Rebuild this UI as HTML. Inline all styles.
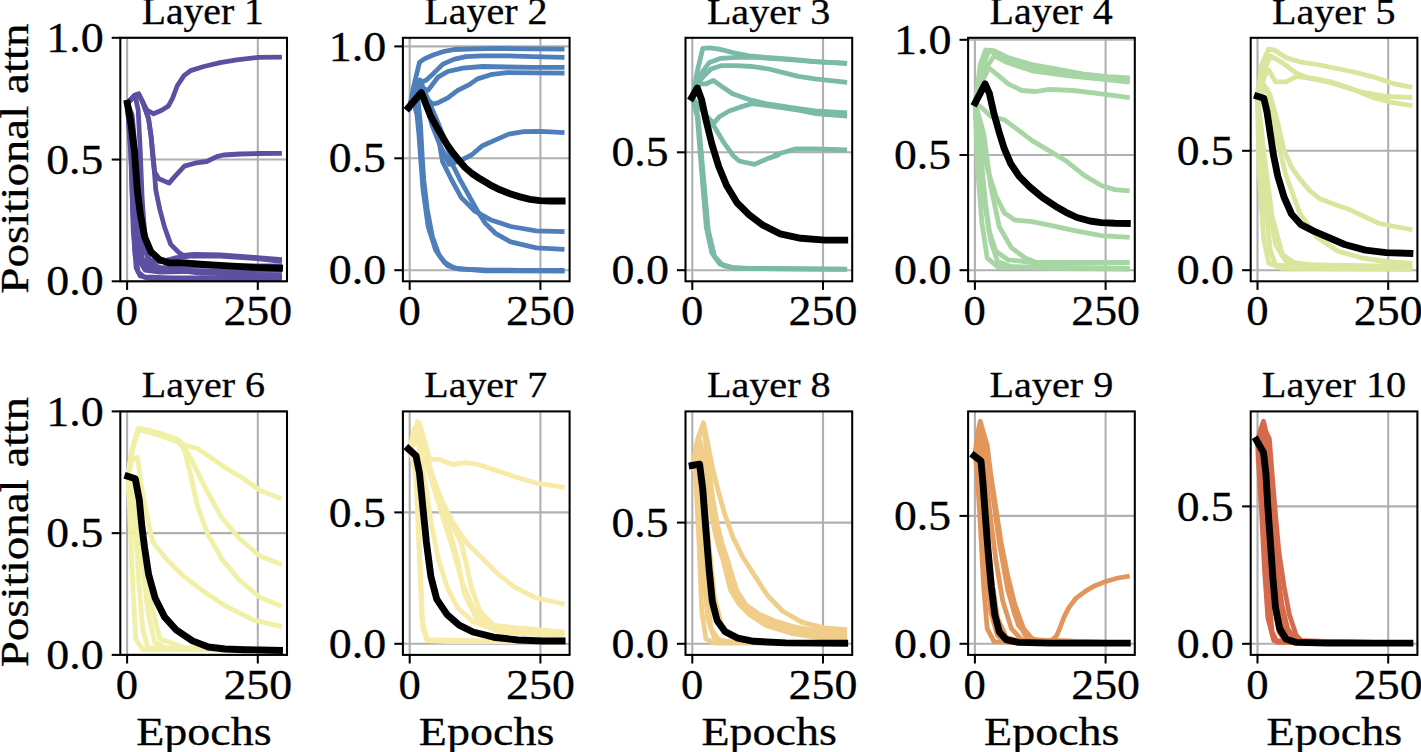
<!DOCTYPE html><html><head><meta charset="utf-8"><style>html,body{margin:0;padding:0;background:#fff;overflow:hidden}svg{display:block}text{font-family:"Liberation Serif",serif;fill:#000;stroke:#000;stroke-width:0.3px}</style></head><body>
<svg width="1421" height="752" viewBox="0 0 1421 752">
<rect width="1421" height="752" fill="#fff"/>
<g stroke="#b0b0b0" stroke-width="2.1"><line x1="127.10" y1="37.80" x2="127.10" y2="281.30"/><line x1="257.80" y1="37.80" x2="257.80" y2="281.30"/><line x1="120.30" y1="281.30" x2="287.00" y2="281.30"/><line x1="120.30" y1="159.55" x2="287.00" y2="159.55"/><line x1="120.30" y1="37.80" x2="287.00" y2="37.80"/></g>
<clipPath id="c1"><rect x="120.30" y="37.80" width="166.70" height="243.50"/></clipPath>
<g clip-path="url(#c1)" fill="none" stroke-linejoin="round" stroke-linecap="square">
<path d="M127.3,103.3 L134.5,95.4 L138.6,94.0 L142.7,102.0 L146.9,110.2 L153.5,113.8 L161.7,110.2 L168.3,106.1 L172.4,98.7 L177.4,85.5 L184.0,75.6 L190.6,70.6 L203.8,66.5 L220.2,62.7 L236.7,59.9 L258.2,57.4 L279.5,57.1" stroke="#5e4fa2" stroke-width="4.8"/>
<path d="M127.3,103.3 L134.5,95.4 L138.6,94.0 L142.7,102.0 L148.5,118.5 L151.0,135.0 L152.6,155.0 L154.6,172.0 L158.9,178.8 L169.1,183.1 L174.2,177.1 L184.4,166.1 L194.6,163.2 L206.6,161.5 L216.8,156.7 L223.6,155.0 L240.0,154.0 L258.0,153.5 L279.5,153.4" stroke="#5e4fa2" stroke-width="4.8"/>
<path d="M127.3,103.3 L134.5,95.4 L138.6,94.0 L142.7,102.0 L148.5,118.5 L151.5,140.0 L153.5,160.0 L155.8,190.0 L159.6,208.5 L164.5,227.0 L170.7,244.4 L178.1,251.8 L183.0,255.5 L194.2,254.3 L220.0,254.9 L254.2,257.5 L279.5,259.5" stroke="#5e4fa2" stroke-width="4.8"/>
<path d="M127.3,103.3 L132.2,115.0 L135.2,150.0 L138.2,200.0 L141.2,235.0 L145.2,252.0 L150.0,260.0 L160.0,262.0 L175.0,258.0 L190.0,256.0 L220.0,256.0 L250.0,258.0 L279.5,261.0" stroke="#5e4fa2" stroke-width="4.8"/>
<path d="M127.3,103.3 L131.2,140.0 L133.2,190.0 L136.2,240.0 L140.2,262.0 L145.0,270.0 L160.0,272.0 L200.0,271.0 L250.0,270.5 L279.5,270.3" stroke="#5e4fa2" stroke-width="4.8"/>
<path d="M127.3,103.3 L130.7,150.0 L132.7,210.0 L135.2,255.0 L138.2,272.0 L144.2,277.0 L170.0,278.0 L279.5,278.0" stroke="#5e4fa2" stroke-width="4.8"/>
<path d="M127.3,103.3 L131.2,160.0 L133.2,230.0 L136.2,268.0 L140.2,276.0 L150.0,278.5 L279.5,278.5" stroke="#5e4fa2" stroke-width="4.8"/>
<path d="M127.3,103.3 L132.2,130.0 L135.2,190.0 L138.2,235.0 L142.2,258.0 L148.0,267.0 L160.0,268.0 L200.0,266.0 L279.5,266.0" stroke="#5e4fa2" stroke-width="4.8"/>
<path d="M127.3,103.3 L135.2,96.0 L138.2,110.0 L140.2,150.0 L142.2,200.0 L145.2,240.0 L148.0,262.0 L160.0,268.0 L200.0,273.0 L279.5,275.0" stroke="#5e4fa2" stroke-width="4.8"/>
<path d="M127.3,103.3 L129.2,113.5 L131.2,125.0 L134.5,151.4 L137.3,190.0 L140.4,214.7 L144.7,237.0 L150.9,251.8 L159.6,259.8 L169.4,262.9 L184.3,262.9 L200.3,264.2 L220.0,265.4 L254.2,267.4 L279.5,268.2" stroke="#000" stroke-width="6.9"/>
</g>
<rect x="120.30" y="37.80" width="166.70" height="243.50" fill="none" stroke="#000" stroke-width="2.05"/>
<g stroke="#000" stroke-width="2.05"><line x1="127.10" y1="281.30" x2="127.10" y2="289.90"/><line x1="257.80" y1="281.30" x2="257.80" y2="289.90"/><line x1="111.70" y1="281.30" x2="120.30" y2="281.30"/><line x1="111.70" y1="159.55" x2="120.30" y2="159.55"/><line x1="111.70" y1="37.80" x2="120.30" y2="37.80"/></g>
<text x="46.25" y="295.40" font-size="41.82" textLength="57.40" lengthAdjust="spacingAndGlyphs">0.0</text>
<text x="46.26" y="173.65" font-size="41.82" textLength="57.01" lengthAdjust="spacingAndGlyphs">0.5</text>
<text x="46.15" y="51.90" font-size="41.82" textLength="57.50" lengthAdjust="spacingAndGlyphs">1.0</text>
<text x="115.81" y="325.30" font-size="41.82" textLength="22.34" lengthAdjust="spacingAndGlyphs">0</text>
<text x="223.42" y="325.30" font-size="41.82" textLength="68.81" lengthAdjust="spacingAndGlyphs">250</text>
<text x="141.72" y="23.60" font-size="37.38" textLength="122.22" lengthAdjust="spacingAndGlyphs">Layer 1</text>
<g transform="translate(27.9,158.15) rotate(-90)"><text x="-135.56" y="0" font-size="40.53" textLength="270.18" lengthAdjust="spacingAndGlyphs">Positional attn</text></g>
<g stroke="#b0b0b0" stroke-width="2.1"><line x1="409.70" y1="37.80" x2="409.70" y2="281.30"/><line x1="540.40" y1="37.80" x2="540.40" y2="281.30"/><line x1="402.90" y1="270.20" x2="569.60" y2="270.20"/><line x1="402.90" y1="158.30" x2="569.60" y2="158.30"/><line x1="402.90" y1="46.40" x2="569.60" y2="46.40"/></g>
<clipPath id="c2"><rect x="402.90" y="37.80" width="166.70" height="243.50"/></clipPath>
<g clip-path="url(#c2)" fill="none" stroke-linejoin="round" stroke-linecap="square">
<path d="M409.7,107.4 L414.0,85.0 L419.5,62.4 L423.9,59.1 L433.0,55.0 L442.9,51.7 L454.4,49.5 L474.2,48.9 L498.9,48.4 L531.9,48.9 L562.1,49.2" stroke="#4f7fba" stroke-width="4.8"/>
<path d="M409.7,107.4 L416.0,88.0 L422.0,82.0 L426.4,80.0 L433.0,73.9 L442.9,64.1 L454.4,59.1 L466.0,56.6 L482.5,55.8 L507.2,55.8 L531.9,56.6 L562.1,57.4" stroke="#4f7fba" stroke-width="4.8"/>
<path d="M409.7,107.4 L416.0,92.0 L422.0,88.0 L428.0,90.4 L437.9,77.2 L447.8,71.5 L462.7,68.2 L482.5,66.5 L507.2,67.0 L531.9,67.3 L562.1,67.3" stroke="#4f7fba" stroke-width="4.8"/>
<path d="M409.7,107.4 L415.0,95.0 L421.0,88.0 L428.0,100.0 L433.0,104.0 L437.9,102.8 L447.8,97.8 L457.7,90.4 L469.3,84.6 L477.5,78.9 L492.3,74.3 L507.2,72.6 L562.1,73.1" stroke="#4f7fba" stroke-width="4.8"/>
<path d="M409.7,107.4 L415.0,85.0 L420.0,82.0 L425.0,100.0 L432.0,125.0 L440.0,145.0 L449.4,164.4 L461.3,160.1 L471.5,155.0 L482.5,145.7 L495.6,139.9 L508.8,134.1 L523.7,131.6 L540.2,131.3 L562.1,132.5" stroke="#4f7fba" stroke-width="4.8"/>
<path d="M409.7,107.4 L414.0,90.0 L418.0,100.0 L420.5,125.0 L422.1,155.0 L423.8,180.5 L427.2,209.5 L432.4,236.7 L439.2,255.5 L447.7,265.7 L459.6,269.1 L485.1,270.0 L519.2,270.3 L562.1,270.3" stroke="#4f7fba" stroke-width="4.8"/>
<path d="M409.7,107.4 L413.0,100.0 L417.0,115.0 L419.0,135.0 L420.4,155.0 L423.0,189.1 L428.1,226.5 L435.8,250.4 L444.3,262.3 L454.5,268.2 L485.1,270.8 L562.1,271.1" stroke="#4f7fba" stroke-width="4.8"/>
<path d="M409.7,107.4 L415.0,85.0 L420.0,80.0 L426.0,95.0 L433.0,112.0 L438.0,135.0 L442.6,161.8 L451.1,178.8 L461.3,197.6 L474.9,211.2 L490.3,219.7 L510.7,226.5 L536.2,230.8 L562.1,231.6" stroke="#4f7fba" stroke-width="4.8"/>
<path d="M409.7,107.4 L415.0,88.0 L421.0,85.0 L428.0,100.0 L436.0,118.0 L444.0,138.0 L449.0,152.0 L452.8,165.2 L459.6,178.8 L468.1,194.2 L476.6,209.5 L485.1,223.1 L495.4,233.3 L510.7,241.9 L536.2,247.8 L562.1,249.2" stroke="#4f7fba" stroke-width="4.8"/>
<path d="M408.5,107.6 L421.3,92.6 L425.3,102.6 L430.6,115.9 L437.2,127.9 L442.0,136.0 L447.0,144.5 L453.0,153.0 L459.0,160.5 L465.0,167.5 L472.0,173.5 L480.0,178.8 L490.0,184.8 L500.0,189.8 L510.0,193.8 L520.0,196.9 L530.0,199.3 L540.0,200.6 L550.0,201.0 L562.1,201.0" stroke="#000" stroke-width="6.9"/>
</g>
<rect x="402.90" y="37.80" width="166.70" height="243.50" fill="none" stroke="#000" stroke-width="2.05"/>
<g stroke="#000" stroke-width="2.05"><line x1="409.70" y1="281.30" x2="409.70" y2="289.90"/><line x1="540.40" y1="281.30" x2="540.40" y2="289.90"/><line x1="394.30" y1="270.20" x2="402.90" y2="270.20"/><line x1="394.30" y1="158.30" x2="402.90" y2="158.30"/><line x1="394.30" y1="46.40" x2="402.90" y2="46.40"/></g>
<text x="328.85" y="284.30" font-size="41.82" textLength="57.40" lengthAdjust="spacingAndGlyphs">0.0</text>
<text x="328.86" y="172.40" font-size="41.82" textLength="57.01" lengthAdjust="spacingAndGlyphs">0.5</text>
<text x="328.75" y="60.50" font-size="41.82" textLength="57.50" lengthAdjust="spacingAndGlyphs">1.0</text>
<text x="398.41" y="325.30" font-size="41.82" textLength="22.34" lengthAdjust="spacingAndGlyphs">0</text>
<text x="506.02" y="325.30" font-size="41.82" textLength="68.81" lengthAdjust="spacingAndGlyphs">250</text>
<text x="424.31" y="23.60" font-size="37.38" textLength="123.14" lengthAdjust="spacingAndGlyphs">Layer 2</text>
<g stroke="#b0b0b0" stroke-width="2.1"><line x1="692.30" y1="37.80" x2="692.30" y2="281.30"/><line x1="823.00" y1="37.80" x2="823.00" y2="281.30"/><line x1="685.50" y1="270.20" x2="852.20" y2="270.20"/><line x1="685.50" y1="152.30" x2="852.20" y2="152.30"/></g>
<clipPath id="c3"><rect x="685.50" y="37.80" width="166.70" height="243.50"/></clipPath>
<g clip-path="url(#c3)" fill="none" stroke-linejoin="round" stroke-linecap="square">
<path d="M692.3,97.8 L697.8,69.0 L702.8,48.4 L709.4,47.9 L719.3,49.2 L732.5,52.5 L749.0,55.8 L765.5,57.4 L790.2,59.1 L814.9,61.6 L844.7,63.2" stroke="#7bb9a9" stroke-width="4.8"/>
<path d="M692.3,97.8 L699.5,75.6 L709.4,62.4 L720.9,58.3 L737.4,57.4 L752.3,57.1 L781.9,59.1 L814.9,61.6 L844.7,63.2" stroke="#7bb9a9" stroke-width="4.8"/>
<path d="M692.3,97.8 L701.1,78.9 L711.0,69.0 L720.9,65.7 L735.8,65.7 L752.3,66.5 L768.8,69.0 L785.2,73.1 L798.4,76.4 L814.9,78.9 L844.7,82.2" stroke="#7bb9a9" stroke-width="4.8"/>
<path d="M692.3,97.8 L699.5,83.8 L706.1,83.8 L713.5,80.5 L722.6,87.1 L732.5,93.7 L749.0,99.5 L765.5,103.6 L781.9,106.1 L798.4,108.6 L814.9,111.0 L844.7,112.7" stroke="#7bb9a9" stroke-width="4.8"/>
<path d="M692.3,97.8 L697.8,105.3 L704.4,113.5 L713.5,123.4 L719.3,116.8 L729.2,111.0 L740.7,106.9 L752.3,103.6 L765.5,105.3 L781.9,107.7 L798.4,110.2 L814.9,113.5 L844.7,116.0" stroke="#7bb9a9" stroke-width="4.8"/>
<path d="M692.3,97.8 L697.8,105.3 L704.4,113.5 L714.3,126.7 L724.2,143.2 L732.5,154.7 L732.4,155.0 L739.2,161.0 L754.5,164.4 L768.1,158.4 L778.4,155.0 L775.3,154.7 L795.1,149.0 L814.9,149.0 L844.7,149.8" stroke="#7bb9a9" stroke-width="4.8"/>
<path d="M692.3,97.8 L697.3,116.4 L700.0,150.9 L702.8,185.5 L706.3,226.9 L711.8,252.8 L719.7,263.9 L731.8,267.4 L749.1,268.4 L844.7,269.1" stroke="#7bb9a9" stroke-width="4.8"/>
<path d="M692.3,97.8 L698.0,116.4 L701.1,150.9 L704.2,185.5 L708.3,230.4 L714.5,256.3 L723.2,265.6 L735.3,268.4 L844.7,269.4" stroke="#7bb9a9" stroke-width="4.8"/>
<path d="M691.8,97.5 L697.3,88.0 L701.4,99.1 L705.9,119.8 L711.8,144.0 L718.7,166.5 L726.6,185.5 L737.0,202.7 L749.1,214.8 L762.9,225.2 L780.2,233.8 L800.9,238.3 L825.1,240.1 L844.7,240.1" stroke="#000" stroke-width="6.9"/>
</g>
<rect x="685.50" y="37.80" width="166.70" height="243.50" fill="none" stroke="#000" stroke-width="2.05"/>
<g stroke="#000" stroke-width="2.05"><line x1="692.30" y1="281.30" x2="692.30" y2="289.90"/><line x1="823.00" y1="281.30" x2="823.00" y2="289.90"/><line x1="676.90" y1="270.20" x2="685.50" y2="270.20"/><line x1="676.90" y1="152.30" x2="685.50" y2="152.30"/></g>
<text x="611.45" y="284.30" font-size="41.82" textLength="57.40" lengthAdjust="spacingAndGlyphs">0.0</text>
<text x="611.46" y="166.40" font-size="41.82" textLength="57.01" lengthAdjust="spacingAndGlyphs">0.5</text>
<text x="681.01" y="325.30" font-size="41.82" textLength="22.34" lengthAdjust="spacingAndGlyphs">0</text>
<text x="788.62" y="325.30" font-size="41.82" textLength="68.81" lengthAdjust="spacingAndGlyphs">250</text>
<text x="706.91" y="23.60" font-size="36.82" textLength="123.39" lengthAdjust="spacingAndGlyphs">Layer 3</text>
<g stroke="#b0b0b0" stroke-width="2.1"><line x1="974.90" y1="37.80" x2="974.90" y2="281.30"/><line x1="1105.60" y1="37.80" x2="1105.60" y2="281.30"/><line x1="968.10" y1="270.20" x2="1134.80" y2="270.20"/><line x1="968.10" y1="155.00" x2="1134.80" y2="155.00"/><line x1="968.10" y1="39.80" x2="1134.80" y2="39.80"/></g>
<clipPath id="c4"><rect x="968.10" y="37.80" width="166.70" height="243.50"/></clipPath>
<g clip-path="url(#c4)" fill="none" stroke-linejoin="round" stroke-linecap="square">
<path d="M975.1,102.6 L980.3,64.5 L985.5,50.0 L994.1,50.7 L1007.9,57.6 L1032.1,64.5 L1059.7,69.7 L1083.9,74.2 L1108.1,76.6 L1127.3,77.7" stroke="#a8d5a4" stroke-width="4.8"/>
<path d="M975.1,102.6 L982.0,68.0 L988.9,50.7 L997.5,54.2 L1011.4,61.1 L1039.0,69.7 L1066.6,74.2 L1101.2,78.4 L1127.3,80.1" stroke="#a8d5a4" stroke-width="4.8"/>
<path d="M975.1,102.6 L983.7,71.5 L994.1,55.9 L1007.9,62.8 L1032.1,70.8 L1066.6,75.6 L1101.2,79.1 L1127.3,81.8" stroke="#a8d5a4" stroke-width="4.8"/>
<path d="M975.1,102.6 L982.0,81.8 L988.9,68.0 L997.5,74.9 L1007.9,83.6 L1021.7,90.5 L1035.6,91.5 L1049.4,89.4 L1073.6,90.5 L1101.2,93.9 L1127.3,97.4" stroke="#a8d5a4" stroke-width="4.8"/>
<path d="M975.1,102.6 L983.7,109.5 L990.6,116.4 L1004.5,119.8 L1018.3,130.2 L1032.1,140.6 L1049.4,150.9 L1066.6,161.3 L1083.9,175.1 L1101.2,185.5 L1115.0,189.6 L1127.3,190.7" stroke="#a8d5a4" stroke-width="4.8"/>
<path d="M975.1,102.6 L980.3,133.6 L987.2,168.2 L995.8,195.8 L1004.5,213.1 L1014.8,220.0 L1032.1,221.7 L1049.4,225.2 L1073.6,230.4 L1101.2,235.6 L1127.3,237.3" stroke="#a8d5a4" stroke-width="4.8"/>
<path d="M975.1,102.6 L978.5,150.9 L983.7,195.8 L988.9,230.4 L995.8,251.1 L1007.9,259.8 L1032.1,262.5 L1066.6,262.5 L1127.3,262.5" stroke="#a8d5a4" stroke-width="4.8"/>
<path d="M975.1,102.6 L980.3,150.9 L985.5,202.7 L990.6,240.7 L997.5,261.5 L1011.4,266.7 L1049.4,268.4 L1127.3,269.1" stroke="#a8d5a4" stroke-width="4.8"/>
<path d="M975.1,102.6 L983.7,133.6 L990.6,185.5 L999.3,226.9 L1011.4,247.7 L1025.2,258.0 L1042.5,264.9 L1066.6,267.7 L1127.3,268.4" stroke="#a8d5a4" stroke-width="4.8"/>
<path d="M975.1,102.6 L977.5,168.2 L982.0,223.5 L987.2,258.0 L997.5,266.7 L1127.3,268.4" stroke="#a8d5a4" stroke-width="4.8"/>
<path d="M975.2,102.8 L985.1,83.8 L989.4,93.4 L993.7,112.6 L999.0,131.7 L1004.3,148.7 L1010.7,163.6 L1019.2,176.4 L1029.8,187.0 L1042.6,197.7 L1055.4,206.2 L1066.0,212.3 L1077.0,217.5 L1090.0,221.0 L1101.2,222.6 L1115.0,223.3 L1127.3,223.5" stroke="#000" stroke-width="6.9"/>
</g>
<rect x="968.10" y="37.80" width="166.70" height="243.50" fill="none" stroke="#000" stroke-width="2.05"/>
<g stroke="#000" stroke-width="2.05"><line x1="974.90" y1="281.30" x2="974.90" y2="289.90"/><line x1="1105.60" y1="281.30" x2="1105.60" y2="289.90"/><line x1="959.50" y1="270.20" x2="968.10" y2="270.20"/><line x1="959.50" y1="155.00" x2="968.10" y2="155.00"/><line x1="959.50" y1="39.80" x2="968.10" y2="39.80"/></g>
<text x="894.05" y="284.30" font-size="41.82" textLength="57.40" lengthAdjust="spacingAndGlyphs">0.0</text>
<text x="894.06" y="169.10" font-size="41.82" textLength="57.01" lengthAdjust="spacingAndGlyphs">0.5</text>
<text x="893.95" y="53.90" font-size="41.82" textLength="57.50" lengthAdjust="spacingAndGlyphs">1.0</text>
<text x="963.61" y="325.30" font-size="41.82" textLength="22.34" lengthAdjust="spacingAndGlyphs">0</text>
<text x="1071.22" y="325.30" font-size="41.82" textLength="68.81" lengthAdjust="spacingAndGlyphs">250</text>
<text x="989.51" y="23.60" font-size="37.38" textLength="123.16" lengthAdjust="spacingAndGlyphs">Layer 4</text>
<g stroke="#b0b0b0" stroke-width="2.1"><line x1="1257.50" y1="37.80" x2="1257.50" y2="281.30"/><line x1="1388.20" y1="37.80" x2="1388.20" y2="281.30"/><line x1="1250.70" y1="270.20" x2="1417.40" y2="270.20"/><line x1="1250.70" y1="150.80" x2="1417.40" y2="150.80"/></g>
<clipPath id="c5"><rect x="1250.70" y="37.80" width="166.70" height="243.50"/></clipPath>
<g clip-path="url(#c5)" fill="none" stroke-linejoin="round" stroke-linecap="square">
<path d="M1257.4,96.3 L1261.7,64.5 L1268.6,49.0 L1275.5,50.7 L1285.9,57.6 L1299.7,61.8 L1317.0,64.5 L1334.3,68.0 L1351.6,71.5 L1372.3,76.6 L1393.0,83.6 L1409.9,87.0" stroke="#d8e69e" stroke-width="4.8"/>
<path d="M1257.4,96.3 L1263.5,71.5 L1270.4,55.9 L1282.5,62.8 L1296.3,73.2 L1310.1,78.4 L1327.4,81.8 L1344.6,87.0 L1361.9,92.2 L1386.1,96.3 L1409.9,97.4" stroke="#d8e69e" stroke-width="4.8"/>
<path d="M1257.4,96.3 L1265.2,74.9 L1268.6,69.7 L1275.5,81.8 L1285.9,81.8 L1296.3,76.6 L1313.6,78.4 L1330.8,81.8 L1351.6,88.7 L1372.3,97.4 L1393.0,102.6 L1409.9,105.3" stroke="#d8e69e" stroke-width="4.8"/>
<path d="M1257.4,96.3 L1264.0,85.0 L1270.0,95.0 L1277.7,122.6 L1284.0,150.2 L1291.5,167.2 L1298.9,177.9 L1309.6,190.6 L1320.2,199.1 L1335.1,204.5 L1350.0,209.8 L1379.2,223.5 L1409.9,229.3" stroke="#d8e69e" stroke-width="4.8"/>
<path d="M1257.4,96.3 L1266.9,88.7 L1275.5,133.6 L1285.9,175.1 L1299.7,213.1 L1317.0,237.3 L1337.7,251.1 L1361.9,258.0 L1386.1,261.5 L1409.9,263.2" stroke="#d8e69e" stroke-width="4.8"/>
<path d="M1257.4,96.3 L1260.0,133.6 L1265.2,202.7 L1270.4,251.1 L1275.5,264.9 L1292.8,266.7 L1409.9,267.7" stroke="#d8e69e" stroke-width="4.8"/>
<path d="M1257.4,96.3 L1261.7,133.6 L1268.6,202.7 L1275.5,244.2 L1285.9,261.5 L1310.1,264.9 L1409.9,266.3" stroke="#d8e69e" stroke-width="4.8"/>
<path d="M1257.4,96.3 L1263.5,150.9 L1272.1,216.6 L1282.5,254.6 L1296.3,264.2 L1409.9,268.4" stroke="#d8e69e" stroke-width="4.8"/>
<path d="M1257.4,96.3 L1259.0,168.2 L1263.5,237.3 L1268.6,263.2 L1282.5,268.4 L1409.9,269.4" stroke="#d8e69e" stroke-width="4.8"/>
<path d="M1257.4,96.3 L1263.8,98.3 L1267.0,111.9 L1270.2,133.2 L1273.4,154.5 L1277.7,175.7 L1284.0,197.0 L1291.5,214.0 L1301.1,224.7 L1313.8,231.1 L1330.9,238.5 L1344.7,244.5 L1365.4,250.1 L1386.1,252.6 L1409.9,253.4" stroke="#000" stroke-width="6.9"/>
</g>
<rect x="1250.70" y="37.80" width="166.70" height="243.50" fill="none" stroke="#000" stroke-width="2.05"/>
<g stroke="#000" stroke-width="2.05"><line x1="1257.50" y1="281.30" x2="1257.50" y2="289.90"/><line x1="1388.20" y1="281.30" x2="1388.20" y2="289.90"/><line x1="1242.10" y1="270.20" x2="1250.70" y2="270.20"/><line x1="1242.10" y1="150.80" x2="1250.70" y2="150.80"/></g>
<text x="1176.65" y="284.30" font-size="41.82" textLength="57.40" lengthAdjust="spacingAndGlyphs">0.0</text>
<text x="1176.66" y="164.90" font-size="41.82" textLength="57.01" lengthAdjust="spacingAndGlyphs">0.5</text>
<text x="1246.21" y="325.30" font-size="41.82" textLength="22.34" lengthAdjust="spacingAndGlyphs">0</text>
<text x="1353.82" y="325.30" font-size="41.82" textLength="68.81" lengthAdjust="spacingAndGlyphs">250</text>
<text x="1272.11" y="23.60" font-size="36.39" textLength="123.39" lengthAdjust="spacingAndGlyphs">Layer 5</text>
<g stroke="#b0b0b0" stroke-width="2.1"><line x1="127.10" y1="411.40" x2="127.10" y2="654.90"/><line x1="257.80" y1="411.40" x2="257.80" y2="654.90"/><line x1="120.30" y1="654.90" x2="287.00" y2="654.90"/><line x1="120.30" y1="533.15" x2="287.00" y2="533.15"/><line x1="120.30" y1="411.40" x2="287.00" y2="411.40"/></g>
<clipPath id="c6"><rect x="120.30" y="411.40" width="166.70" height="243.50"/></clipPath>
<g clip-path="url(#c6)" fill="none" stroke-linejoin="round" stroke-linecap="square">
<path d="M127.8,476.3 L132.3,448.9 L138.5,428.2 L149.5,430.3 L163.4,434.4 L177.2,439.2 L184.1,444.8 L197.9,448.9 L208.3,455.8 L225.6,467.9 L242.8,478.3 L260.1,490.4 L279.5,498.0" stroke="#f0f0a6" stroke-width="4.8"/>
<path d="M127.8,476.3 L132.3,448.9 L138.5,428.9 L149.5,431.6 L163.4,435.8 L178.9,441.3 L187.6,452.4 L197.9,473.1 L208.3,493.8 L222.1,518.0 L239.4,538.7 L260.1,556.0 L279.5,563.6" stroke="#f0f0a6" stroke-width="4.8"/>
<path d="M127.8,476.3 L132.3,448.9 L138.5,429.6 L149.5,432.3 L163.4,436.8 L177.9,442.0 L184.1,448.9 L189.3,469.6 L197.9,507.6 L208.3,535.3 L222.1,559.5 L239.4,580.2 L260.1,597.5 L279.5,605.4" stroke="#f0f0a6" stroke-width="4.8"/>
<path d="M127.8,476.3 L132.3,459.3 L137.5,457.6 L142.6,493.8 L149.5,528.4 L153.0,542.2 L166.8,559.5 L184.1,576.7 L204.8,592.3 L225.6,606.1 L253.2,619.9 L279.5,626.1" stroke="#f0f0a6" stroke-width="4.8"/>
<path d="M127.8,476.3 L129.5,507.6 L132.3,576.7 L135.7,638.9 L142.6,649.3 L279.5,650.3" stroke="#f0f0a6" stroke-width="4.8"/>
<path d="M127.8,476.3 L134.0,507.6 L138.5,576.7 L142.6,628.6 L147.8,647.6 L279.5,650.0" stroke="#f0f0a6" stroke-width="4.8"/>
<path d="M127.8,476.3 L135.7,490.4 L141.9,559.5 L147.8,611.3 L154.7,642.4 L166.8,648.6 L279.5,650.0" stroke="#f0f0a6" stroke-width="4.8"/>
<path d="M127.8,476.3 L137.5,524.9 L146.1,576.7 L153.0,611.3 L159.9,638.9 L184.1,647.6 L279.5,649.6" stroke="#f0f0a6" stroke-width="4.8"/>
<path d="M127.8,476.3 L135.3,478.8 L139.3,499.9 L141.9,526.5 L144.6,547.8 L148.6,574.4 L155.2,598.3 L164.5,616.9 L176.5,630.2 L192.5,640.9 L208.4,647.0 L225.0,649.0 L245.0,649.7 L260.1,650.0 L279.5,650.4" stroke="#000" stroke-width="6.9"/>
</g>
<rect x="120.30" y="411.40" width="166.70" height="243.50" fill="none" stroke="#000" stroke-width="2.05"/>
<g stroke="#000" stroke-width="2.05"><line x1="127.10" y1="654.90" x2="127.10" y2="663.50"/><line x1="257.80" y1="654.90" x2="257.80" y2="663.50"/><line x1="111.70" y1="654.90" x2="120.30" y2="654.90"/><line x1="111.70" y1="533.15" x2="120.30" y2="533.15"/><line x1="111.70" y1="411.40" x2="120.30" y2="411.40"/></g>
<text x="46.25" y="669.00" font-size="41.82" textLength="57.40" lengthAdjust="spacingAndGlyphs">0.0</text>
<text x="46.26" y="547.25" font-size="41.82" textLength="57.01" lengthAdjust="spacingAndGlyphs">0.5</text>
<text x="46.15" y="425.50" font-size="41.82" textLength="57.50" lengthAdjust="spacingAndGlyphs">1.0</text>
<text x="115.81" y="698.90" font-size="41.82" textLength="22.34" lengthAdjust="spacingAndGlyphs">0</text>
<text x="223.42" y="698.90" font-size="41.82" textLength="68.81" lengthAdjust="spacingAndGlyphs">250</text>
<text x="141.71" y="397.20" font-size="36.82" textLength="123.32" lengthAdjust="spacingAndGlyphs">Layer 6</text>
<text x="136.22" y="744.90" font-size="40.53" textLength="135.51" lengthAdjust="spacingAndGlyphs">Epochs</text>
<g transform="translate(27.9,531.75) rotate(-90)"><text x="-135.56" y="0" font-size="40.53" textLength="270.18" lengthAdjust="spacingAndGlyphs">Positional attn</text></g>
<g stroke="#b0b0b0" stroke-width="2.1"><line x1="409.70" y1="411.40" x2="409.70" y2="654.90"/><line x1="540.40" y1="411.40" x2="540.40" y2="654.90"/><line x1="402.90" y1="643.80" x2="569.60" y2="643.80"/><line x1="402.90" y1="512.40" x2="569.60" y2="512.40"/></g>
<clipPath id="c7"><rect x="402.90" y="411.40" width="166.70" height="243.50"/></clipPath>
<g clip-path="url(#c7)" fill="none" stroke-linejoin="round" stroke-linecap="square">
<path d="M409.8,448.9 L414.3,428.2 L419.5,423.0 L424.6,442.0 L429.8,459.3 L438.5,459.3 L452.3,464.5 L466.1,462.7 L478.2,464.5 L493.7,469.6 L514.5,476.6 L535.2,482.8 L562.1,486.9" stroke="#f7eba8" stroke-width="4.8"/>
<path d="M409.8,448.9 L417.7,421.3 L422.9,438.5 L431.5,473.1 L441.9,500.7 L452.3,521.5 L466.1,542.2 L479.9,556.0 L497.2,573.3 L514.5,587.1 L535.2,597.5 L562.1,603.7" stroke="#f7eba8" stroke-width="4.8"/>
<path d="M409.8,448.9 L418.4,424.7 L424.6,455.8 L435.0,490.4 L448.8,518.0 L460.9,542.2 L466.1,562.9 L471.3,587.1 L479.9,611.3 L493.7,625.1 L517.9,632.0 L562.1,633.8" stroke="#f7eba8" stroke-width="4.8"/>
<path d="M409.8,448.9 L419.5,428.2 L426.4,462.7 L436.7,497.3 L448.8,528.4 L457.5,559.5 L464.4,594.0 L476.5,618.2 L497.2,630.3 L562.1,634.8" stroke="#f7eba8" stroke-width="4.8"/>
<path d="M409.8,448.9 L417.7,438.5 L424.6,480.0 L431.5,524.9 L438.5,559.5 L447.1,587.1 L457.5,607.8 L473.0,621.7 L500.6,632.0 L562.1,636.2" stroke="#f7eba8" stroke-width="4.8"/>
<path d="M409.8,448.9 L414.3,455.8 L417.7,507.6 L420.5,576.7 L422.9,628.6 L428.1,640.7 L448.8,641.7 L562.1,641.7" stroke="#f7eba8" stroke-width="4.8"/>
<path d="M409.8,448.9 L416.0,473.1 L419.5,559.5 L421.9,618.2 L426.4,639.6 L562.1,642.4" stroke="#f7eba8" stroke-width="4.8"/>
<path d="M409.8,448.9 L420.5,431.6 L429.8,473.1 L441.9,514.6 L454.0,552.6 L462.6,583.7 L473.0,607.8 L490.3,625.1 L562.1,632.0" stroke="#f7eba8" stroke-width="4.8"/>
<path d="M408.4,448.9 L416.0,455.8 L419.5,473.1 L422.9,507.6 L426.4,542.2 L430.9,576.7 L436.7,599.2 L447.1,614.7 L459.2,625.1 L473.0,632.0 L493.7,637.2 L517.9,640.0 L542.1,641.0 L562.1,641.0" stroke="#000" stroke-width="6.9"/>
</g>
<rect x="402.90" y="411.40" width="166.70" height="243.50" fill="none" stroke="#000" stroke-width="2.05"/>
<g stroke="#000" stroke-width="2.05"><line x1="409.70" y1="654.90" x2="409.70" y2="663.50"/><line x1="540.40" y1="654.90" x2="540.40" y2="663.50"/><line x1="394.30" y1="643.80" x2="402.90" y2="643.80"/><line x1="394.30" y1="512.40" x2="402.90" y2="512.40"/></g>
<text x="328.85" y="657.90" font-size="41.82" textLength="57.40" lengthAdjust="spacingAndGlyphs">0.0</text>
<text x="328.86" y="526.50" font-size="41.82" textLength="57.01" lengthAdjust="spacingAndGlyphs">0.5</text>
<text x="398.41" y="698.90" font-size="41.82" textLength="22.34" lengthAdjust="spacingAndGlyphs">0</text>
<text x="506.02" y="698.90" font-size="41.82" textLength="68.81" lengthAdjust="spacingAndGlyphs">250</text>
<text x="424.32" y="397.20" font-size="36.39" textLength="122.98" lengthAdjust="spacingAndGlyphs">Layer 7</text>
<text x="418.82" y="744.90" font-size="40.53" textLength="135.51" lengthAdjust="spacingAndGlyphs">Epochs</text>
<g stroke="#b0b0b0" stroke-width="2.1"><line x1="692.30" y1="411.40" x2="692.30" y2="654.90"/><line x1="823.00" y1="411.40" x2="823.00" y2="654.90"/><line x1="685.50" y1="643.80" x2="852.20" y2="643.80"/><line x1="685.50" y1="522.60" x2="852.20" y2="522.60"/></g>
<clipPath id="c8"><rect x="685.50" y="411.40" width="166.70" height="243.50"/></clipPath>
<g clip-path="url(#c8)" fill="none" stroke-linejoin="round" stroke-linecap="square">
<path d="M692.4,465.5 L698.0,438.0 L703.4,422.8 L707.5,441.9 L712.3,467.4 L718.7,492.9 L725.1,515.3 L733.1,537.6 L742.6,556.7 L751.0,570.0 L763.9,590.0 L768.0,596.0 L782.5,611.0 L801.6,622.1 L824.0,627.9 L844.7,629.5" stroke="#f0ce8a" stroke-width="4.8"/>
<path d="M692.4,465.5 L698.0,440.0 L703.4,425.0 L706.0,445.0 L709.0,470.0 L713.0,500.0 L717.5,525.0 L722.5,545.0 L727.5,560.0 L736.5,590.0 L746.0,605.0 L758.8,614.0 L774.8,621.0 L795.0,627.0 L820.0,631.0 L844.7,633.3" stroke="#f0ce8a" stroke-width="4.8"/>
<path d="M692.4,465.5 L699.0,438.0 L703.0,453.3 L707.0,480.0 L711.0,506.5 L715.5,530.0 L720.0,548.0 L724.0,560.0 L732.0,590.0 L741.0,603.0 L753.5,614.0 L769.5,623.5 L795.0,631.5 L820.0,635.0 L844.7,636.5" stroke="#f0ce8a" stroke-width="4.8"/>
<path d="M692.4,465.5 L698.0,440.0 L701.5,455.0 L705.5,480.0 L710.0,506.5 L714.5,530.0 L719.0,548.0 L723.0,560.0 L730.5,590.0 L739.0,604.0 L750.0,615.0 L766.0,625.5 L792.0,633.5 L820.0,637.5 L844.7,638.5" stroke="#f0ce8a" stroke-width="4.8"/>
<path d="M692.4,465.5 L696.6,455.8 L700.0,507.6 L703.5,569.8 L707.6,618.2 L714.5,638.9 L731.8,642.4 L844.7,643.4" stroke="#f0ce8a" stroke-width="4.8"/>
<path d="M692.4,465.5 L698.0,448.9 L702.5,518.0 L705.9,587.1 L711.1,628.6 L719.7,641.7 L844.7,643.4" stroke="#f0ce8a" stroke-width="4.8"/>
<path d="M692.4,465.5 L699.0,445.5 L704.2,490.4 L709.4,549.1 L714.5,597.5 L721.5,625.1 L731.8,637.2 L749.1,641.7 L844.7,643.1" stroke="#f0ce8a" stroke-width="4.8"/>
<path d="M692.4,465.5 L695.5,473.1 L699.0,542.2 L701.8,611.3 L705.9,638.9 L714.5,643.1 L844.7,643.4" stroke="#f0ce8a" stroke-width="4.8"/>
<path d="M692.2,465.5 L699.6,464.2 L702.8,489.7 L706.0,531.2 L709.1,569.5 L712.3,601.4 L717.1,620.5 L725.1,631.7 L737.8,638.1 L753.8,641.3 L785.7,642.9 L844.7,643.2" stroke="#000" stroke-width="6.9"/>
</g>
<rect x="685.50" y="411.40" width="166.70" height="243.50" fill="none" stroke="#000" stroke-width="2.05"/>
<g stroke="#000" stroke-width="2.05"><line x1="692.30" y1="654.90" x2="692.30" y2="663.50"/><line x1="823.00" y1="654.90" x2="823.00" y2="663.50"/><line x1="676.90" y1="643.80" x2="685.50" y2="643.80"/><line x1="676.90" y1="522.60" x2="685.50" y2="522.60"/></g>
<text x="611.45" y="657.90" font-size="41.82" textLength="57.40" lengthAdjust="spacingAndGlyphs">0.0</text>
<text x="611.46" y="536.70" font-size="41.82" textLength="57.01" lengthAdjust="spacingAndGlyphs">0.5</text>
<text x="681.01" y="698.90" font-size="41.82" textLength="22.34" lengthAdjust="spacingAndGlyphs">0</text>
<text x="788.62" y="698.90" font-size="41.82" textLength="68.81" lengthAdjust="spacingAndGlyphs">250</text>
<text x="706.91" y="397.20" font-size="36.82" textLength="123.73" lengthAdjust="spacingAndGlyphs">Layer 8</text>
<text x="701.42" y="744.90" font-size="40.53" textLength="135.51" lengthAdjust="spacingAndGlyphs">Epochs</text>
<g stroke="#b0b0b0" stroke-width="2.1"><line x1="974.90" y1="411.40" x2="974.90" y2="654.90"/><line x1="1105.60" y1="411.40" x2="1105.60" y2="654.90"/><line x1="968.10" y1="643.80" x2="1134.80" y2="643.80"/><line x1="968.10" y1="515.90" x2="1134.80" y2="515.90"/></g>
<clipPath id="c9"><rect x="968.10" y="411.40" width="166.70" height="243.50"/></clipPath>
<g clip-path="url(#c9)" fill="none" stroke-linejoin="round" stroke-linecap="square">
<path d="M974.9,455.8 L977.9,431.6 L980.3,421.3 L983.7,433.4 L987.2,445.5 L990.6,473.1 L995.8,507.6 L1001.0,542.2 L1007.9,576.7 L1014.8,604.4 L1023.5,628.6 L1032.1,638.9 L1045.9,642.4 L1052.0,640.2 L1056.8,635.4 L1060.3,627.0 L1063.9,617.4 L1068.7,607.9 L1075.9,598.3 L1085.5,591.1 L1095.0,585.7 L1105.8,581.5 L1117.8,578.0 L1127.3,576.5" stroke="#e3965b" stroke-width="4.8"/>
<path d="M974.9,455.8 L980.3,424.7 L984.4,438.5 L988.9,466.2 L994.1,504.2 L999.3,542.2 L1006.2,580.2 L1014.8,614.7 L1025.2,635.5 L1039.0,641.7 L1127.3,643.1" stroke="#e3965b" stroke-width="4.8"/>
<path d="M974.9,455.8 L978.5,445.5 L983.0,483.5 L987.2,535.3 L992.4,583.7 L997.5,618.2 L1006.2,637.2 L1021.7,642.4 L1127.3,643.4" stroke="#e3965b" stroke-width="4.8"/>
<path d="M974.9,455.8 L976.8,466.2 L980.3,524.9 L983.7,587.1 L987.2,628.6 L994.1,641.7 L1127.3,643.4" stroke="#e3965b" stroke-width="4.8"/>
<path d="M974.9,455.8 L979.6,438.5 L985.5,473.1 L990.6,518.0 L995.8,559.5 L1002.7,600.9 L1011.4,628.6 L1021.7,639.6 L1127.3,643.1" stroke="#e3965b" stroke-width="4.8"/>
<path d="M974.9,455.8 L982.0,435.1 L987.9,459.3 L994.1,500.7 L1001.0,549.1 L1007.9,590.6 L1018.3,625.1 L1032.1,640.0 L1127.3,643.1" stroke="#e3965b" stroke-width="4.8"/>
<path d="M974.9,455.8 L977.5,455.8 L982.0,507.6 L985.5,559.5 L990.6,611.3 L997.5,635.5 L1007.9,642.4 L1127.3,643.4" stroke="#e3965b" stroke-width="4.8"/>
<path d="M974.1,455.8 L981.0,461.0 L983.0,483.5 L985.5,518.0 L988.2,552.6 L991.3,587.1 L994.8,614.7 L999.3,632.0 L1006.2,639.6 L1018.3,642.4 L1049.4,643.1 L1127.3,643.1" stroke="#000" stroke-width="6.9"/>
</g>
<rect x="968.10" y="411.40" width="166.70" height="243.50" fill="none" stroke="#000" stroke-width="2.05"/>
<g stroke="#000" stroke-width="2.05"><line x1="974.90" y1="654.90" x2="974.90" y2="663.50"/><line x1="1105.60" y1="654.90" x2="1105.60" y2="663.50"/><line x1="959.50" y1="643.80" x2="968.10" y2="643.80"/><line x1="959.50" y1="515.90" x2="968.10" y2="515.90"/></g>
<text x="894.05" y="657.90" font-size="41.82" textLength="57.40" lengthAdjust="spacingAndGlyphs">0.0</text>
<text x="894.06" y="530.00" font-size="41.82" textLength="57.01" lengthAdjust="spacingAndGlyphs">0.5</text>
<text x="963.61" y="698.90" font-size="41.82" textLength="22.34" lengthAdjust="spacingAndGlyphs">0</text>
<text x="1071.22" y="698.90" font-size="41.82" textLength="68.81" lengthAdjust="spacingAndGlyphs">250</text>
<text x="989.51" y="397.20" font-size="36.82" textLength="123.73" lengthAdjust="spacingAndGlyphs">Layer 9</text>
<text x="984.02" y="744.90" font-size="40.53" textLength="135.51" lengthAdjust="spacingAndGlyphs">Epochs</text>
<g stroke="#b0b0b0" stroke-width="2.1"><line x1="1257.50" y1="411.40" x2="1257.50" y2="654.90"/><line x1="1388.20" y1="411.40" x2="1388.20" y2="654.90"/><line x1="1250.70" y1="643.80" x2="1417.40" y2="643.80"/><line x1="1250.70" y1="506.40" x2="1417.40" y2="506.40"/></g>
<clipPath id="c10"><rect x="1250.70" y="411.40" width="166.70" height="243.50"/></clipPath>
<g clip-path="url(#c10)" fill="none" stroke-linejoin="round" stroke-linecap="square">
<path d="M1257.5,440.3 L1261.0,428.2 L1263.5,421.3 L1265.9,431.6 L1269.3,438.5 L1272.1,473.1 L1275.5,514.6 L1279.0,552.6 L1284.2,587.1 L1289.4,614.7 L1296.3,635.5 L1303.2,642.4 L1409.9,643.1" stroke="#d66a4c" stroke-width="4.8"/>
<path d="M1257.5,440.3 L1261.7,431.6 L1265.2,438.5 L1268.6,473.1 L1271.4,518.0 L1274.2,559.5 L1277.3,597.5 L1281.8,625.1 L1289.4,640.7 L1409.9,643.1" stroke="#d66a4c" stroke-width="4.8"/>
<path d="M1257.5,440.3 L1260.0,445.5 L1263.5,490.4 L1265.9,542.2 L1268.6,594.0 L1272.1,632.0 L1277.3,642.4 L1409.9,643.4" stroke="#d66a4c" stroke-width="4.8"/>
<path d="M1257.5,440.3 L1262.4,435.1 L1266.9,455.8 L1270.4,490.4 L1273.8,531.8 L1277.3,569.8 L1281.8,604.4 L1287.6,628.6 L1296.3,641.0 L1409.9,643.1" stroke="#d66a4c" stroke-width="4.8"/>
<path d="M1257.5,440.3 L1258.3,459.3 L1261.7,514.6 L1264.5,569.8 L1267.9,618.2 L1273.8,640.7 L1409.9,643.4" stroke="#d66a4c" stroke-width="4.8"/>
<path d="M1257.5,440.3 L1260.3,438.5 L1263.8,466.2 L1267.3,514.6 L1270.7,562.9 L1274.2,604.4 L1279.0,632.0 L1285.9,641.7 L1409.9,643.1" stroke="#d66a4c" stroke-width="4.8"/>
<path d="M1256.5,440.3 L1263.5,452.4 L1265.9,473.1 L1267.9,507.6 L1270.4,542.2 L1272.8,576.7 L1275.5,607.8 L1279.7,628.6 L1285.9,638.9 L1296.3,642.4 L1327.4,643.1 L1409.9,643.1" stroke="#000" stroke-width="6.9"/>
</g>
<rect x="1250.70" y="411.40" width="166.70" height="243.50" fill="none" stroke="#000" stroke-width="2.05"/>
<g stroke="#000" stroke-width="2.05"><line x1="1257.50" y1="654.90" x2="1257.50" y2="663.50"/><line x1="1388.20" y1="654.90" x2="1388.20" y2="663.50"/><line x1="1242.10" y1="643.80" x2="1250.70" y2="643.80"/><line x1="1242.10" y1="506.40" x2="1250.70" y2="506.40"/></g>
<text x="1176.65" y="657.90" font-size="41.82" textLength="57.40" lengthAdjust="spacingAndGlyphs">0.0</text>
<text x="1176.66" y="520.50" font-size="41.82" textLength="57.01" lengthAdjust="spacingAndGlyphs">0.5</text>
<text x="1246.21" y="698.90" font-size="41.82" textLength="22.34" lengthAdjust="spacingAndGlyphs">0</text>
<text x="1353.82" y="698.90" font-size="41.82" textLength="68.81" lengthAdjust="spacingAndGlyphs">250</text>
<text x="1261.80" y="397.20" font-size="36.82" textLength="144.47" lengthAdjust="spacingAndGlyphs">Layer 10</text>
<text x="1266.62" y="744.90" font-size="40.53" textLength="135.51" lengthAdjust="spacingAndGlyphs">Epochs</text>
</svg></body></html>
